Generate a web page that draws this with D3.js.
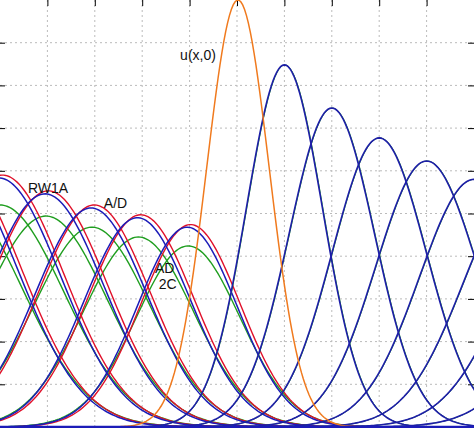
<!DOCTYPE html>
<html>
<head>
<meta charset="utf-8">
<script src="https://cdn.jsdelivr.net/npm/d3@7"></script>
<style>
body { margin: 0; background: #fff; }
svg { display: block; }
</style>
</head>
<body>
<div id="container"></div>
<script>
// Chart values (data units: x 0..10 across, y 0..10 up)
var w = 474, h = 428;
var gridTicks = [1, 2, 3, 4, 5, 6, 7, 8, 9];

// initial profile u(x,0)
var initC = 5.02, initA = 10, initS = 0.66;

// right-moving pulses (blue)
var rightC = [6.0, 7.0, 8.0, 9.0, 10.0, 11.0, 12.0, 13.1];
var rightA = [8.48, 7.47, 6.77, 6.23, 5.8, 5.6, 5.4, 5.15];
var rightS = [0.8, 0.9, 0.99, 1.07, 1.15, 1.22, 1.3, 1.39];

// left-moving pulses: blue, red (RW1A), green (AD 2C)
var leftC = [3.97, 2.92, 1.94, 0.97, 0.0, -0.97];
var leftBlueA = [4.68, 4.9, 5.13, 5.46, 5.83, 6.1];
var leftRedA = [4.74, 4.97, 5.2, 5.53, 5.9, 6.17];
var leftGreenA = [4.24, 4.45, 4.68, 4.94, 5.2, 5.45];
var leftS = [1.05, 1.12, 1.18, 1.24, 1.3, 1.36];

var labels = [
  {t: "u(x,0)", x: 3.8, y: 8.6},
  {t: "RW1A", x: 0.59, y: 5.48},
  {t: "A/D", x: 2.19, y: 5.13},
  {t: "AD", x: 3.27, y: 3.6},
  {t: "2C", x: 3.35, y: 3.23}
];

var x = d3.scaleLinear().domain([0, 10]).range([0, w]);
var y = d3.scaleLinear().domain([0, 10]).range([427, 0]);

var svg = d3.select("#container").append("svg")
  .attr("width", w).attr("height", h);

// Grid
svg.selectAll("line.vg").data(gridTicks).enter().append("line")
  .attr("x1", d => x(d)).attr("x2", d => x(d)).attr("y1", 0).attr("y2", h)
  .attr("stroke", "#bbb").attr("stroke-dasharray", "2,3").attr("stroke-width", 1);
svg.selectAll("line.hg").data(gridTicks).enter().append("line")
  .attr("y1", d => y(d)).attr("y2", d => y(d)).attr("x1", 0).attr("x2", w)
  .attr("stroke", "#bbb").attr("stroke-dasharray", "2,3").attr("stroke-width", 1);

// Tick marks on edges
svg.append("g").attr("transform", "translate(0,0)")
  .call(d3.axisBottom(x).tickValues(gridTicks).tickSize(6).tickFormat(""))
  .call(g => g.select(".domain").remove());
svg.append("g").attr("transform", "translate(" + w + ",0)")
  .call(d3.axisLeft(y).tickValues(gridTicks).tickSize(6).tickFormat(""))
  .call(g => g.select(".domain").remove());
svg.append("g").attr("transform", "translate(0,0)")
  .call(d3.axisRight(y).tickValues(gridTicks).tickSize(5).tickFormat(""))
  .call(g => g.select(".domain").remove());

var xs = d3.range(-0.2, 10.25, 0.04);
var line = d3.line().x(d => x(d[0])).y(d => y(d[1])).curve(d3.curveLinear);
function pulse(c, a, s) {
  return xs.map(v => [v, a * Math.exp(-(v - c) * (v - c) / (2 * s * s))]);
}
function drawSet(cs, as, ss, color, shift, sw) {
  svg.append("g").selectAll("path").data(cs).enter().append("path")
    .attr("d", (c, i) => line(pulse(c + shift, as[i], ss[i])))
    .attr("fill", "none").attr("stroke", color).attr("stroke-width", sw);
}

drawSet(leftC, leftGreenA, leftS.map(s => s * 1.04), "#1f9e1f", 0.0, 1.4);
drawSet(leftC, leftRedA, leftS, "#e0102a", 0.05, 1.4);
drawSet(leftC, leftBlueA, leftS, "#1c1cb8", -0.02, 1.5);
drawSet(rightC, rightA, rightS, "#1f9e1f", 0.01, 1.0);
drawSet(rightC, rightA, rightS, "#1e1ea8", 0, 1.6);

svg.append("path").attr("d", line(pulse(initC, initA, initS)))
  .attr("fill", "none").attr("stroke", "#f07a1e").attr("stroke-width", 1.5);

// baseline
svg.append("line").attr("x1", 0).attr("x2", w).attr("y1", y(0)).attr("y2", y(0))
  .attr("stroke", "#1c1cb8").attr("stroke-width", 2.5);

svg.selectAll("text.lbl").data(labels).enter().append("text")
  .attr("x", d => x(d.x)).attr("y", d => y(d.y))
  .attr("font-family", "Liberation Sans, Arial, sans-serif").attr("font-size", 14)
  .attr("fill", "#111").text(d => d.t);
</script>
</body>
</html>
